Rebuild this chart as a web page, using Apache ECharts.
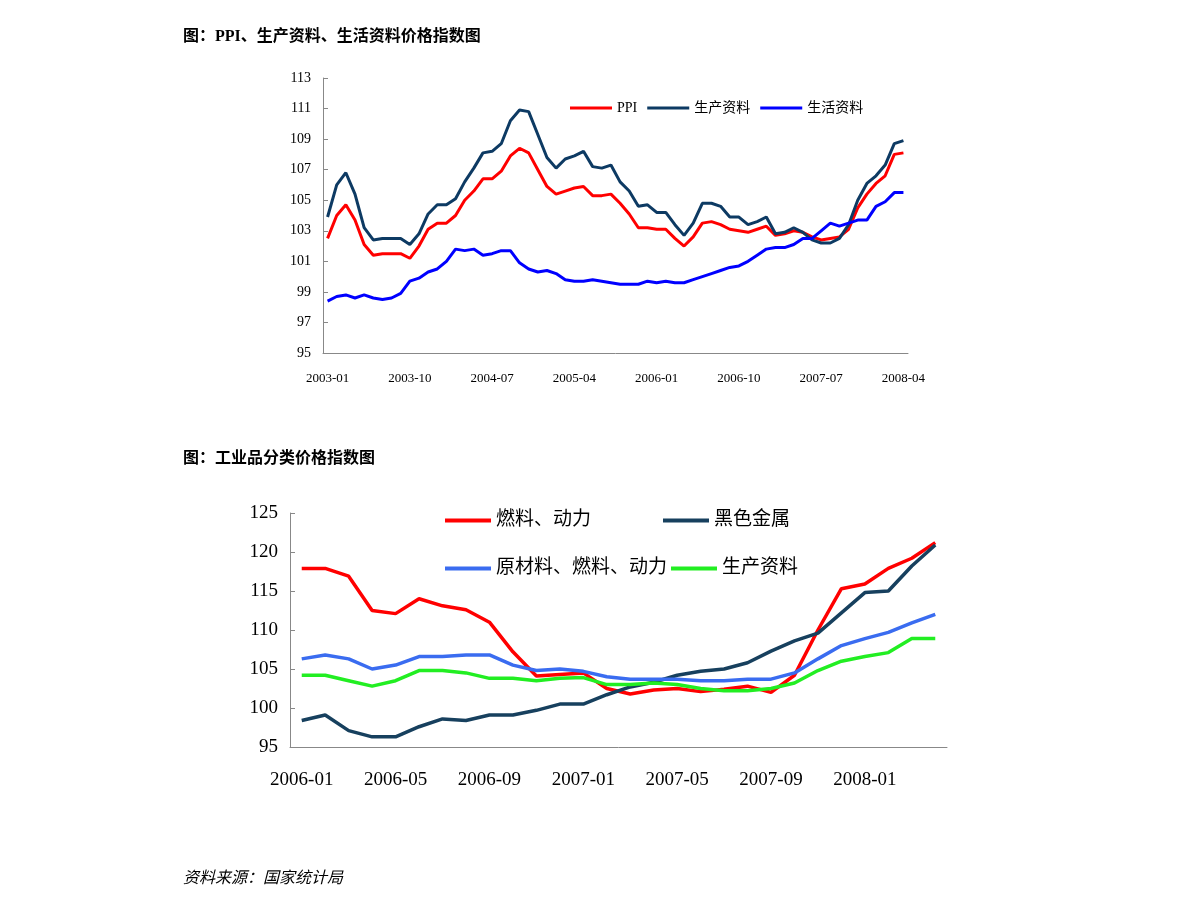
<!DOCTYPE html><html><head><meta charset="utf-8">
<script src="https://cdn.jsdelivr.net/npm/echarts@6/dist/echarts.min.js"></script>
<style>body{margin:0;background:#fff}#c{width:1191px;height:906px}</style></head><body><div id="c"></div><script>
function months(y,m,n){const a=[];for(let i=0;i<n;i++){a.push(y+'-'+String(m).padStart(2,'0'));m++;if(m>12){m=1;y++;}}return a;}
const cats1 = months(2003,1,64);
const ppi = [102.5,104,104.7,103.7,102.1,101.4,101.5,101.5,101.5,101.2,102,103.1,103.5,103.5,104,105,105.6,106.4,106.4,106.9,107.9,108.4,108.1,107,105.9,105.4,105.6,105.8,105.9,105.3,105.3,105.4,104.8,104.1,103.2,103.2,103.1,103.1,102.5,102,102.6,103.5,103.6,103.4,103.1,103,102.9,103.1,103.3,102.7,102.8,103,102.9,102.6,102.4,102.5,102.6,103.1,104.5,105.4,106.1,106.6,108,108.1];
const prod1 = [103.9,106,106.8,105.4,103.2,102.4,102.5,102.5,102.5,102.1,102.8,104.1,104.7,104.7,105.1,106.2,107.1,108.1,108.2,108.7,110.2,110.9,110.8,109.3,107.8,107.1,107.7,107.9,108.2,107.2,107.1,107.3,106.2,105.6,104.6,104.7,104.2,104.2,103.4,102.7,103.5,104.8,104.8,104.6,103.9,103.9,103.4,103.6,103.9,102.8,102.9,103.2,102.9,102.4,102.2,102.2,102.5,103.4,105,106.1,106.6,107.3,108.7,108.9];
const life1 = [98.4,98.7,98.8,98.6,98.8,98.6,98.5,98.6,98.9,99.7,99.9,100.3,100.5,101,101.8,101.7,101.8,101.4,101.5,101.7,101.7,100.9,100.5,100.3,100.4,100.2,99.8,99.7,99.7,99.8,99.7,99.6,99.5,99.5,99.5,99.7,99.6,99.7,99.6,99.6,99.8,100,100.2,100.4,100.6,100.7,101,101.4,101.8,101.9,101.9,102.1,102.5,102.5,103,103.5,103.3,103.5,103.7,103.7,104.6,104.9,105.5,105.5];
const cats2 = months(2006,1,28);
const fuel = [117.9,117.9,116.9,112.5,112.1,114,113.1,112.6,111,107.2,104.1,104.3,104.5,102.5,101.8,102.3,102.5,102.1,102.4,102.8,102,104.2,110,115.3,115.9,117.9,119.2,121.2];
const ferrous = [98.4,99.1,97.1,96.3,96.3,97.6,98.6,98.4,99.1,99.1,99.7,100.5,100.5,101.7,102.7,103.3,104.2,104.7,105,105.8,107.3,108.6,109.6,112.2,114.8,115,118.2,120.9];
const raw = [106.3,106.8,106.3,105,105.5,106.6,106.6,106.8,106.8,105.5,104.8,105,104.7,104,103.7,103.7,103.7,103.5,103.5,103.7,103.7,104.5,106.3,108,108.9,109.7,110.9,112];
const prod2 = [104.2,104.2,103.5,102.8,103.5,104.8,104.8,104.5,103.8,103.8,103.5,103.8,103.9,103,103,103.2,103,102.5,102.2,102.2,102.5,103.2,104.8,106,106.6,107.1,108.9,108.9];
const F = "'Liberation Serif','Noto Sans CJK SC',serif";
const ax = {lineStyle:{color:'#888'}};
const chart = echarts.init(document.getElementById('c'));
function ln(name,data,color,x,y,w){return {name,type:'line',data,xAxisIndex:x,yAxisIndex:y,showSymbol:false,symbol:'none',lineStyle:{color,width:w},itemStyle:{color},animation:false};}
chart.setOption({
 animation:false,
 textStyle:{fontFamily:F},
 title:[
  {text:'图：PPI、生产资料、生活资料价格指数图',left:178,top:24,textStyle:{fontSize:16,fontWeight:'bold',color:'#000',fontFamily:F}},
  {text:'图：工业品分类价格指数图',left:178,top:446,textStyle:{fontSize:16,fontWeight:'bold',color:'#000',fontFamily:F}},
  {text:'资料来源：国家统计局',left:178,top:866,textStyle:{fontSize:16,fontStyle:'italic',fontWeight:'normal',color:'#000',fontFamily:F}}
 ],
 legend:[
  {data:['PPI','生产资料','生活资料'],icon:'rect',left:565,top:96,itemWidth:42,itemHeight:3,itemGap:10,textStyle:{fontSize:14,color:'#000'}},
  {data:['燃料、动力','黑色金属'],icon:'rect',left:440,top:506,itemWidth:46,itemHeight:4,itemGap:72,textStyle:{fontSize:19,color:'#000'}},
  {data:['原材料、燃料、动力','生产资料 '],icon:'rect',left:440,top:554,itemWidth:46,itemHeight:4,itemGap:4,textStyle:{fontSize:19,color:'#000'}}
 ],
 grid:[
  {left:323,top:78,width:585,height:275},
  {left:290,top:513,width:657,height:234}
 ],
 xAxis:[
  {type:'category',gridIndex:0,data:cats1,boundaryGap:true,axisLine:ax,axisTick:{interval:0,lineStyle:{color:'#888'}},axisLabel:{interval:8,color:'#000',fontSize:13,margin:19}},
  {type:'category',gridIndex:1,data:cats2,boundaryGap:true,axisLine:ax,axisTick:{interval:0,lineStyle:{color:'#888'}},axisLabel:{interval:3,color:'#000',fontSize:19,margin:24}}
 ],
 yAxis:[
  {type:'value',gridIndex:0,min:95,max:113,interval:2,axisLine:{show:true,lineStyle:{color:'#888'}},axisTick:{show:true,inside:true,lineStyle:{color:'#888'}},splitLine:{show:false},axisLabel:{color:'#000',fontSize:14,margin:12}},
  {type:'value',gridIndex:1,min:95,max:125,interval:5,axisLine:{show:true,lineStyle:{color:'#888'}},axisTick:{show:true,inside:true,lineStyle:{color:'#888'}},splitLine:{show:false},axisLabel:{color:'#000',fontSize:19,margin:12}}
 ],
 series:[
  ln('PPI',ppi,'#ff0000',0,0,3),
  ln('生产资料',prod1,'#0d3a63',0,0,3),
  ln('生活资料',life1,'#0000ff',0,0,3),
  ln('燃料、动力',fuel,'#ff0000',1,1,3.5),
  ln('黑色金属',ferrous,'#17405e',1,1,3.5),
  ln('原材料、燃料、动力',raw,'#3a6cf0',1,1,3.5),
  ln('生产资料 ',prod2,'#22ee22',1,1,3.5)
 ]
});
</script></body></html>
